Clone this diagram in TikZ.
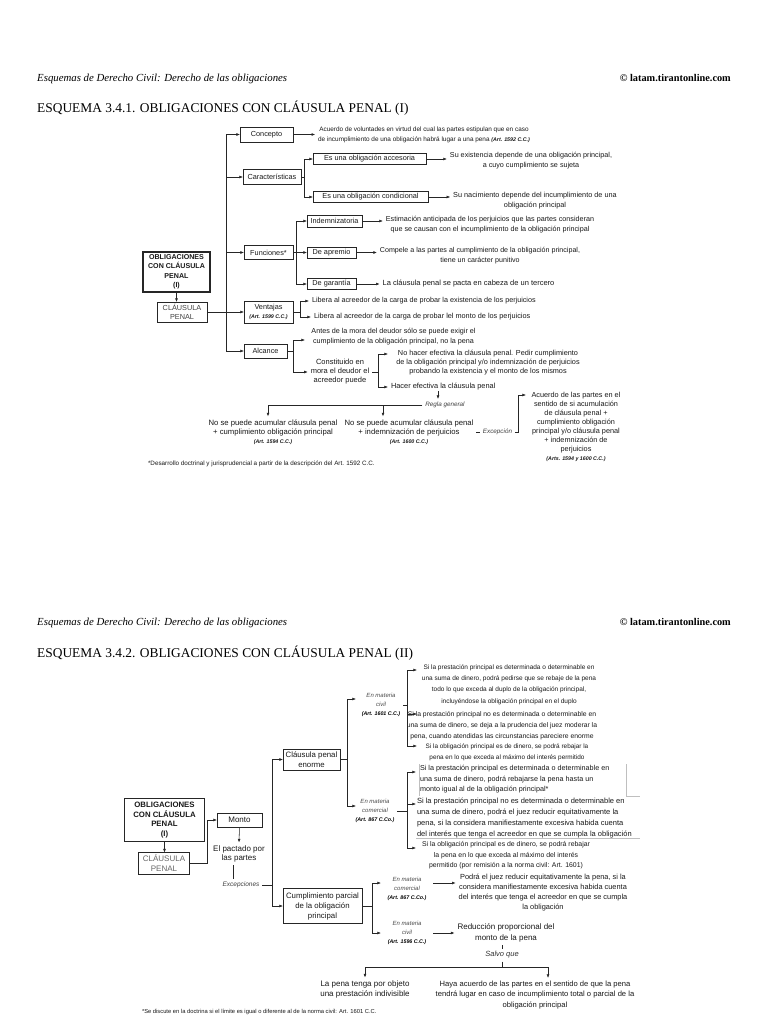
\documentclass[tikz,border=0pt]{standalone}
\usepackage{fontspec}
\setmainfont{Liberation Serif}
\setsansfont{Liberation Sans}
\usetikzlibrary{arrows.meta}
\newcommand\fz[2]{\fontsize{#1}{#2}\selectfont}
\newcommand\art[1]{{\bfseries\itshape\fz{5.3}{7}#1}}
\tikzset{
  bx/.style={draw=black!85, line width=0.55pt, inner sep=0pt, outer sep=0pt, align=center, text=black!90, font=\sffamily\fz{7.3}{9.3}},
  mainbx/.style={bx, line width=1.1pt, font=\sffamily\bfseries\fz{7.1}{9.5}},
  tx/.style={inner sep=0pt, outer sep=3pt, align=center, text=black!90, font=\sffamily\fz{7.3}{9.3}},
  txl/.style={tx, align=left, outer sep=0pt},
  lbl/.style={tx, text=black!70, font=\sffamily\itshape\fz{6}{9}},
  ln/.style={line width=0.55pt, draw=black!85},
  ar/.style={ln, -{Latex[length=3.6pt,width=2.8pt]}},
  gl/.style={line width=0.4pt, draw=black!25},
}
\begin{document}
\begin{tikzpicture}[x=1pt,y=-1pt]
\useasboundingbox[fill=white] (0,0) rectangle (768,1024);

% ================= TOP PAGE =================
\node[anchor=base west, inner sep=0pt, font=\itshape\fz{10.8}{12}] (hd1) at (37,82) {Esquemas de Derecho Civil: Derecho de las obligaciones};
\node[anchor=base east, inner sep=0pt, font=\bfseries\fz{10.3}{11}] (hr1) at (731,82) {© latam.tirantonline.com};
\node[anchor=base west, inner sep=0pt, font=\fz{13.4}{15}] (ti1) at (37,113) {ESQUEMA 3.4.1. OBLIGACIONES CON CLÁUSULA PENAL (I)};

\node[mainbx, minimum width=67, minimum height=40] (main1) at (176.5,272) {OBLIGACIONES\\CON CLÁUSULA\\PENAL\\(I)};
\node[bx, minimum width=50, minimum height=20, text=black!75, font=\sffamily\fz{7.3}{9.5}] (clau1) at (182,312) {CLÁUSULA\\PENAL};

\node[bx, minimum width=53, minimum height=15] (concepto) at (266.5,134.5) {Concepto};
\node[bx, minimum width=58, minimum height=15] (caract) at (272,177) {Características};
\node[bx, minimum width=49, minimum height=14] (funciones) at (268.5,252.5) {Funciones*};
\node[bx, minimum width=49, minimum height=22] (ventajas) at (268.5,312) {Ventajas\\\art{(Art. 1599 C.C.)}};
\node[bx, minimum width=43, minimum height=14] (alcance) at (265.5,351) {Alcance};

\node[bx, minimum width=113, minimum height=11] (accesoria) at (369.5,159) {Es una obligación accesoria};
\node[bx, minimum width=115, minimum height=11] (condicional) at (370.5,197) {Es una obligación condicional};
\node[bx, minimum width=55, minimum height=12] (indemn) at (334.5,221) {Indemnizatoria};
\node[bx, minimum width=49, minimum height=11] (apremio) at (331.5,252.5) {De apremio};
\node[bx, minimum width=49, minimum height=11] (garantia) at (331.5,284) {De garantía};

\node[tx, font=\sffamily\fz{6.4}{9.5}] (conctx) at (424,135) {Acuerdo de voluntades en virtud del cual las partes estipulan que en caso\\de incumplimiento de una obligación habrá lugar a una pena \art{(Art. 1592 C.C.)}};
\node[tx, font=\sffamily\fz{7.2}{10}] (acctx) at (531,161) {Su existencia depende de una obligación principal,\\a cuyo cumplimiento se sujeta};
\node[tx, font=\sffamily\fz{7.3}{10}] (condtx) at (535,200.5) {Su nacimiento depende del incumplimiento de una\\obligación principal};
\node[tx, font=\sffamily\fz{7.2}{9.3}] (indtx) at (490,224.5) {Estimación anticipada de los perjuicios que las partes consideran\\que se causan con el incumplimiento de la obligación principal};
\node[tx, font=\sffamily\fz{7.1}{10}] (aprtx) at (480,256) {Compele a las partes al cumplimiento de la obligación principal,\\tiene un carácter punitivo};
\node[tx, font=\sffamily\fz{7.5}{9.3}] (gartx) at (468.5,284) {La cláusula penal se pacta en cabeza de un tercero};
\node[tx, anchor=west, font=\sffamily\fz{7.2}{9.3}] (lib1) at (309,301) {Libera al acreedor de la carga de probar la existencia de los perjuicios};
\node[tx, anchor=west, font=\sffamily\fz{7.3}{9.3}] (lib2) at (311,317) {Libera al acreedor de la carga de probar lel monto de los perjuicios};
\node[tx, font=\sffamily\fz{7.2}{9.3}] (antes) at (393.5,336.5) {Antes de la mora del deudor sólo se puede exigir el\\cumplimiento de la obligación principal, no la pena};
\coordinate (antesin) at (305,340);
\node[tx, font=\sffamily\fz{7.5}{9}] (constit) at (340,372) {Constituido en\\mora el deudor el\\acreedor puede};
\node[tx, font=\sffamily\fz{7.3}{9}] (nohacer) at (488,363) {No hacer efectiva la cláusula penal. Pedir cumplimiento\\de la obligación principal y/o indemnización de perjuicios\\probando la existencia y el monto de los mismos};
\coordinate (nohin) at (388,354);
\node[tx, anchor=west, font=\sffamily\fz{7.4}{9}] (hacer) at (388,387) {Hacer efectiva la cláusula penal};
\node[tx, text=black!75, font=\sffamily\itshape\fz{6.3}{8}] (regla) at (445,405) {Regla general};
\node[tx, font=\sffamily\fz{7.7}{9.2}] (noac1) at (273,432) {No se puede acumular cláusula penal\\+ cumplimiento obligación principal\\\art{(Art. 1594 C.C.)}};
\node[tx, font=\sffamily\fz{7.7}{9.2}] (noac2) at (409,432) {No se puede acumular cláusula penal\\+ indemnización de perjuicios\\\art{(Art. 1600 C.C.)}};
\node[tx, text=black!75, font=\sffamily\itshape\fz{6.3}{8}] (excep) at (497.5,432) {Excepción};
\node[tx, font=\sffamily\fz{7.3}{9.1}] (acuerdo) at (576,427) {Acuerdo de las partes en el\\sentido de si acumulación\\de cláusula penal +\\cumplimiento obligación\\principal y/o cláusula penal\\+ indemnización de\\perjuicios\\\art{(Arts. 1594 y 1600 C.C.)}};
\coordinate (acuin) at (526,395);
\node[tx, anchor=west, outer sep=0pt, font=\sffamily\fz{6.3}{8}] (foot1) at (148,464) {*Desarrollo doctrinal y jurisprudencial a partir de la descripción del Art. 1592 C.C.};

% connectors top
\draw[ar] (main1.south) -- (main1.south |- clau1.north);
\draw[ar] (clau1.east) -- (ventajas.west);
\coordinate (tr) at (226,0);
\draw[ln] (tr |- concepto) -- (tr |- alcance);
\foreach \n in {concepto,caract,funciones,alcance} \draw[ar] (tr |- \n) -- (\n.west);
\draw[ar] (concepto.east) -- (concepto.east -| conctx.west);
\draw[ar] (caract.east) -- ++(3,0) coordinate (cb) |- (accesoria.west);
\draw[ar] (cb) |- (condicional.west);
\draw[ar] (accesoria.east) -- (accesoria.east -| acctx.west);
\draw[ar] (condicional.east) -- (condicional.east -| condtx.west);
\draw[ar] (funciones.east) -- ++(3,0) coordinate (fb) |- (indemn.west);
\draw[ar] (fb) |- (garantia.west);
\draw[ar] (fb) -- (apremio.west);
\draw[ar] (indemn.east) -- (indemn.east -| indtx.west);
\draw[ar] (apremio.east) -- (apremio.east -| aprtx.west);
\draw[ar] (garantia.east) -- (garantia.east -| gartx.west);
\draw[ar] (ventajas.east) -- ++(7,0) coordinate (vb) |- (lib1.west);
\draw[ar] (vb) |- (lib2.west);
\draw[ar] (alcance.east) -- ++(6,0) coordinate (ab) |- (antesin);
\draw[ar] (ab) |- (constit.west);
\draw[ln] (constit.east) -- ++(6,0) coordinate (kb);
\draw[ar] (kb) |- (nohin);
\draw[ar] (kb) |- (hacer.west);
\coordinate (hdown) at (438,391);
\draw[ar] (hdown) -- (hdown |- regla.north);
\coordinate (rl) at (268,405);
\coordinate (rm) at (383,405);
\draw[ln] (regla.west) -- (rl);
\draw[ar] (rl) -- (rl |- noac1.north);
\draw[ar] (rm) -- (rm |- noac2.north);
\draw[ln] (excep.west -| noac2.east) -- (excep.west);
\draw[ar] (excep.east) -- ++(3,0) |- (acuin);

% ================= BOTTOM PAGE =================
\node[anchor=base west, inner sep=0pt, font=\itshape\fz{10.8}{12}] (hd2) at (37,625) {Esquemas de Derecho Civil: Derecho de las obligaciones};
\node[anchor=base east, inner sep=0pt, font=\bfseries\fz{10.3}{11}] (hr2) at (731,625) {© latam.tirantonline.com};
\node[anchor=base west, inner sep=0pt, font=\fz{13.4}{15}] (ti2) at (37,657) {ESQUEMA 3.4.2. OBLIGACIONES CON CLÁUSULA PENAL (II)};

\node[mainbx, minimum width=80, minimum height=43, font=\sffamily\bfseries\fz{7.8}{9.8}] (main2) at (164.5,820) {OBLIGACIONES\\CON CLÁUSULA\\PENAL\\(I)};
\node[bx, minimum width=51, minimum height=22, text=black!60, font=\sffamily\fz{8}{10}] (clau2) at (164,863.5) {CLÁUSULA\\PENAL};
\node[bx, minimum width=45, minimum height=14, font=\sffamily\fz{8}{10}] (monto) at (239.5,820) {Monto};
\node[tx, font=\sffamily\fz{8}{9.5}] (pactado) at (239,854) {El pactado por\\las partes};
\node[tx, text=black!75, font=\sffamily\itshape\fz{6.5}{8}] (excepc) at (241,885) {Excepciones};
\coordinate (xa) at (233,0);
\node[bx, minimum width=57, minimum height=21, font=\sffamily\fz{7.8}{9.5}] (enorme) at (311.5,759.5) {Cláusula penal\\enorme};
\node[bx, minimum width=79, minimum height=35, font=\sffamily\fz{7.8}{10}] (cumpl) at (322.5,906) {Cumplimiento parcial\\de la obligación\\principal};

\node[lbl] (civ) at (381,705) {En materia\\civil\\\art{\textcolor{black}{(Art. 1601 C.C.)}}};
\node[lbl] (com) at (375,811) {En materia\\comercial\\\art{\textcolor{black}{(Art. 867 C.Co.)}}};
\coordinate (civin) at (356,699);
\coordinate (comin) at (356,806);

\node[tx, font=\sffamily\fz{6.5}{11.3}] (ci1) at (509,684.5) {Si la prestación principal es determinada o determinable en\\una suma de dinero, podrá pedirse que se rebaje de la pena\\todo lo que exceda al duplo de la obligación principal,\\incluyéndose la obligación principal en el duplo};
\node[tx, font=\sffamily\fz{6.8}{11.3}] (ci2) at (502,725.5) {Si la prestación principal no es determinada o determinable en\\una suma de dinero, se deja a la prudencia del juez moderar la\\pena, cuando atendidas las circunstancias pareciere enorme};
\node[tx, font=\sffamily\fz{6.4}{11}] (ci3) at (507,752) {Si la obligación principal es de dinero, se podrá rebajar la\\pena en lo que exceda al máximo del interés permitido};
\coordinate (ci1in) at (417,670);
\coordinate (ci2in) at (417,714);
\coordinate (ci3in) at (417,746);

\node[txl, anchor=west, font=\sffamily\fz{7.2}{10.5}] (co1) at (420,779.5) {Si la prestación principal es determinada o determinable en\\una suma de dinero, podrá rebajarse la pena hasta un\\monto igual al de la obligación principal*};
\node[txl, anchor=west, font=\sffamily\fz{7.5}{10.8}] (co2) at (417,818) {Si la prestación principal no es determinada o determinable en\\una suma de dinero, podrá el juez reducir equitativamente la\\pena, si la considera manifiestamente excesiva habida cuenta\\del interés que tenga el acreedor en que se cumpla la obligación};
\node[tx, font=\sffamily\fz{6.9}{10.5}] (co3) at (506,855.5) {Si la obligación principal es de dinero, se podrá rebajar\\la pena en lo que exceda al máximo del interés\\permitido (por remisión a la norma civil: Art. 1601)};
\coordinate (co1in) at (416,772);
\coordinate (co2in) at (416,804);
\coordinate (co3in) at (416,848);

\draw[gl] (419,764) -- (419,796);
\draw[gl] (626,764) -- (626,796) -- (640,796);
\draw[gl] (416,838) -- (640,838);

\node[lbl] (com2) at (407,889) {En materia\\comercial\\\art{\textcolor{black}{(Art. 867 C.Co.)}}};
\node[lbl] (civ2) at (407,933) {En materia\\civil\\\art{\textcolor{black}{(Art. 1596 C.C.)}}};
\coordinate (c2in) at (381,883);
\coordinate (v2in) at (381,933);
\coordinate (c2a) at (433,883);
\coordinate (v2a) at (433,933);
\node[tx, font=\sffamily\fz{7.4}{10.3}] (podra) at (543,892.5) {Podrá el juez reducir equitativamente la pena, si la\\considera manifiestamente excesiva habida cuenta\\del interés que tenga el acreedor en que se cumpla\\la obligación};
\node[tx, font=\sffamily\fz{8}{10.5}] (reduc) at (506,933) {Reducción proporcional del\\monto de la pena};
\node[tx, text=black!80, font=\sffamily\itshape\fz{7.5}{9}] (salvo) at (502,955) {Salvo que};
\coordinate (sx) at (502,0);
\coordinate (hl) at (0,967);
\node[tx, font=\sffamily\fz{8}{10.5}] (lapena) at (365,989.5) {La pena tenga por objeto\\una prestación indivisible};
\node[tx, font=\sffamily\fz{7.6}{10.5}] (haya) at (535,995) {Haya acuerdo de las partes en el sentido de que la pena\\tendrá lugar en caso de incumplimiento total o parcial de la\\obligación principal};
\node[tx, anchor=west, outer sep=0pt, font=\sffamily\fz{5.8}{7}] (foot2) at (142,1011.5) {*Se discute en la doctrina si el límite es igual o diferente al de la norma civil: Art. 1601 C.C.};

% connectors bottom
\draw[ar] (main2.south) -- (main2.south |- clau2.north);
\draw[ar] (clau2.east) -- ++(18,0) |- (monto.west);
\draw[ar] (monto.south) -- (pactado.north);
\draw[ln] (pactado.south -| xa) -- (excepc.north -| xa);
\coordinate (tr2) at (272,0);
\draw[ln] (excepc.east) -- (tr2 |- excepc);
\draw[ln] (tr2 |- enorme) -- (tr2 |- cumpl);
\draw[ar] (tr2 |- enorme) -- (enorme.west);
\draw[ar] (tr2 |- cumpl) -- (cumpl.west);
\coordinate (b1x) at (347,0);
\draw[ln] (enorme.east) -- (enorme.east -| b1x);
\draw[ln] (b1x |- civin) -- (b1x |- comin);
\draw[ar] (b1x |- civin) -- (civin);
\draw[ar] (b1x |- comin) -- (comin);
\coordinate (b2x) at (407,0);
\draw[ln] (civ.east) -- (civ.east -| b2x);
\draw[ln] (b2x |- ci1in) -- (b2x |- ci3in);
\foreach \c in {ci1in,ci2in,ci3in} \draw[ar] (b2x |- \c) -- (\c);
\draw[ln] (com.east) -- (com.east -| b2x);
\draw[ln] (b2x |- co1in) -- (b2x |- co3in);
\foreach \c in {co1in,co2in,co3in} \draw[ar] (b2x |- \c) -- (\c);
\draw[ln] (cumpl.east) -- ++(10,0) coordinate (b3);
\draw[ar] (b3) |- (c2in);
\draw[ar] (b3) |- (v2in);
\draw[ar] (c2a) -- (c2a -| podra.west);
\draw[ar] (v2a) -- (v2a -| reduc.west);
\draw[ln] (reduc.south -| sx) -- (salvo.north -| sx);
\draw[ln] (salvo.south -| sx) -- (sx |- hl);
\coordinate (hla) at (365,967);
\coordinate (hlb) at (548,967);
\draw[ln] (hla) -- (hlb);
\draw[ar] (hla) -- (hla |- lapena.north);
\draw[ar] (hlb) -- (hlb |- haya.north);
\end{tikzpicture}
\end{document}
